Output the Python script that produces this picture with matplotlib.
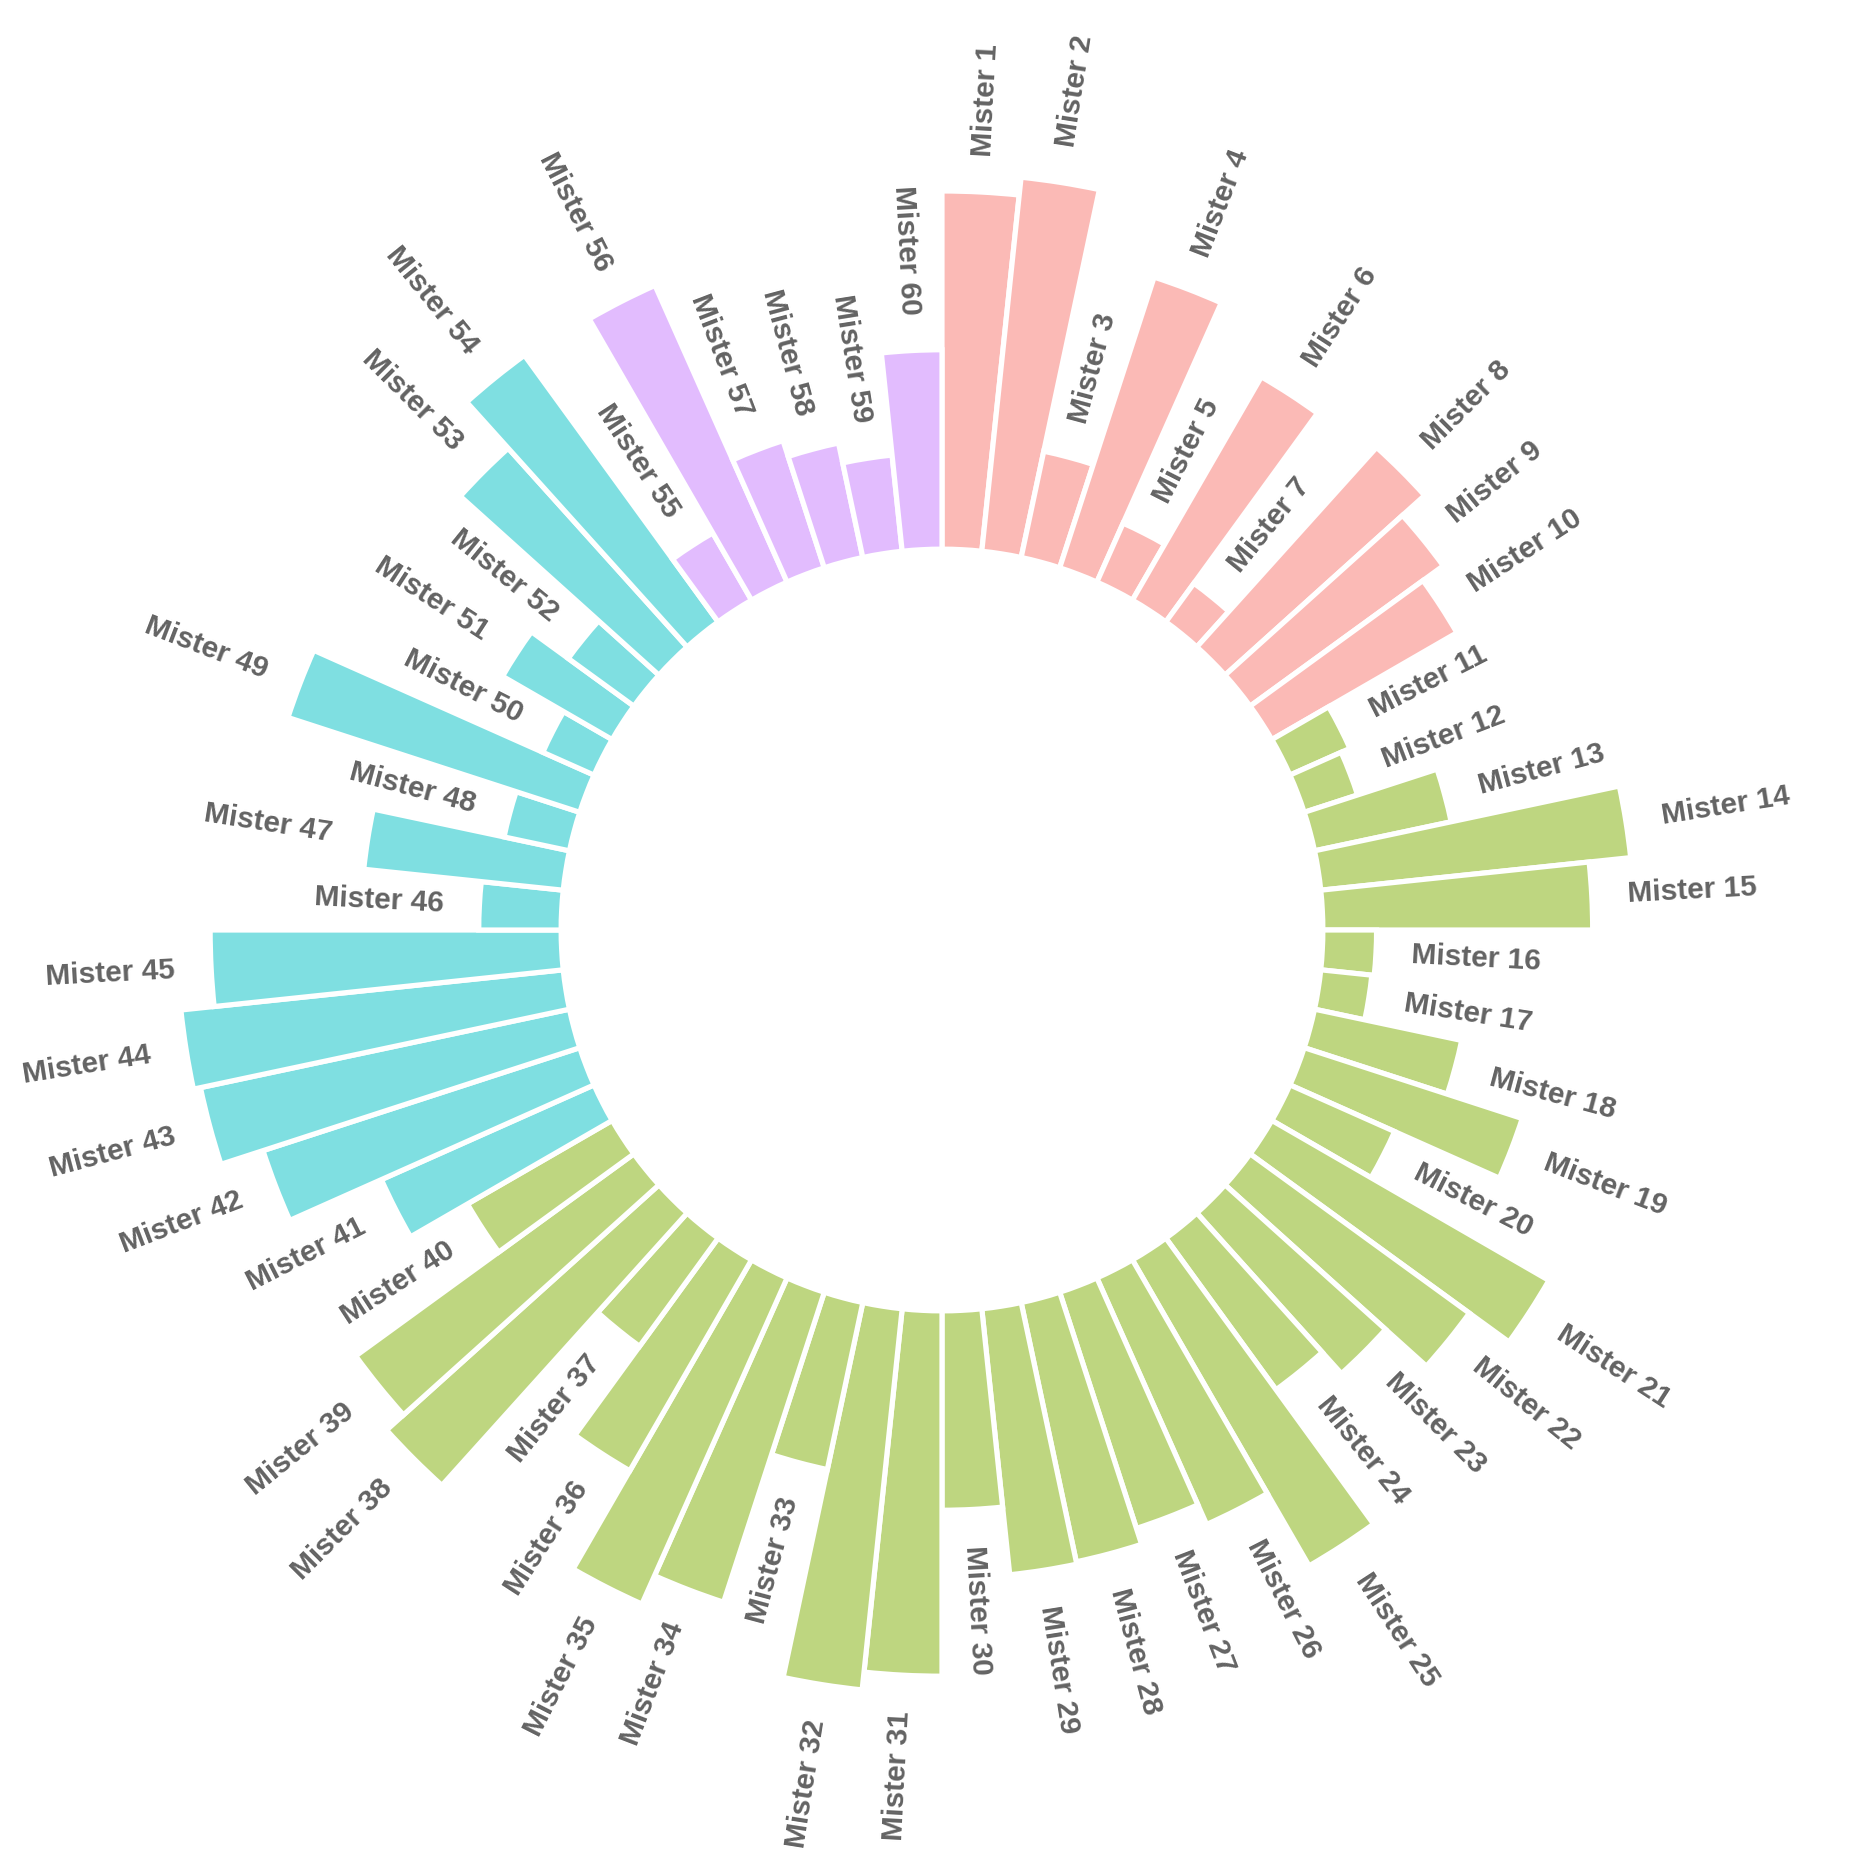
import numpy as np
import matplotlib
matplotlib.use("Agg")
import matplotlib.pyplot as plt

names = ["Mister %d" % i for i in range(1, 61)]
values = [300, 315, 91, 256, 54, 216, 40, 225, 200, 179,
          55, 47, 117, 261, 226, 45, 43, 126, 192, 96,
          268, 227, 181, 157, 296, 226, 208, 222, 224, 167,
          306, 321, 143, 273, 299, 204, 112, 307, 288, 140,
          195, 279, 316, 322, 294, 69, 168, 56, 257, 47,
          106, 68, 224, 276, 65, 272, 112, 98, 81, 167]
groups = ["A"] * 10 + ["B"] * 30 + ["C"] * 14 + ["D"] * 6
group_colors = {"A": "#FBBAB6", "B": "#BED680", "C": "#7FDFE1", "D": "#E2BCFE"}

inner = 319
pad = 30

fig = plt.figure(figsize=(10, 10), dpi=187.2)
ax = fig.add_axes([0.0032, 0.0032, 1, 1], polar=True)
ax.set_theta_zero_location("N")
ax.set_theta_direction(-1)
ax.set_axis_off()
ax.set_ylim(0, 784)

n = len(values)
width = 2 * np.pi / n
angles = (np.arange(n) + 0.5) * width
colors = [group_colors[g] for g in groups]
ax.bar(angles, values, width=width, bottom=inner, color=colors,
       edgecolor="white", linewidth=2)

for ang, val, name in zip(angles, values, names):
    rot = 90 - np.rad2deg(ang)
    if ang > np.pi:
        rot += 180
        ha = "right"
    else:
        ha = "left"
    ax.text(ang, inner + val + pad, name, ha=ha, va="center", rotation=rot,
            rotation_mode="anchor", fontsize=11.5, fontweight="bold",
            color="#636363", family=["Liberation Sans", "DejaVu Sans"])

fig.savefig("out.png", dpi=187.2, facecolor="white")
